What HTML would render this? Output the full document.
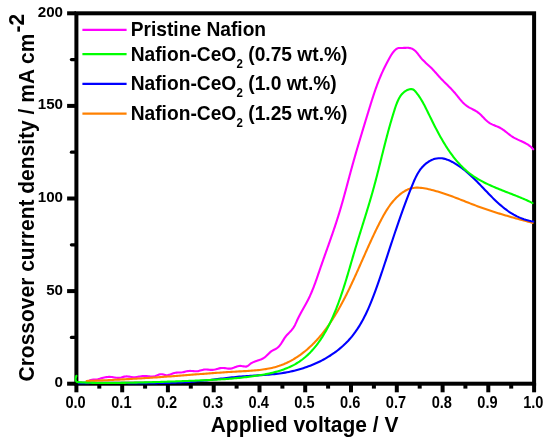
<!DOCTYPE html>
<html><head><meta charset="utf-8"><style>
html,body{margin:0;padding:0;background:#fff;}
body{width:550px;height:443px;overflow:hidden;}
svg{display:block;}
text{font-family:"Liberation Sans",Arial,sans-serif;font-weight:bold;fill:#000;}
.tk{font-size:14.6px;}
.lg{font-size:19.2px;}
.sub{font-size:11.5px;}
.ax{font-size:21px;}
</style></head><body>
<svg width="550" height="443" viewBox="0 0 550 443">
<rect x="0" y="0" width="550" height="443" fill="#fff"/>
<g stroke="#000" stroke-width="4" fill="none">
<rect x="76.4" y="13.3" width="457.7" height="370.4"/>
<line x1="67.1" y1="383.7" x2="76" y2="383.7"/><line x1="71.4" y1="337.4" x2="76" y2="337.4" stroke-width="3.2" stroke-linecap="round"/><line x1="67.1" y1="291.1" x2="76" y2="291.1"/><line x1="71.4" y1="244.8" x2="76" y2="244.8" stroke-width="3.2" stroke-linecap="round"/><line x1="67.1" y1="198.5" x2="76" y2="198.5"/><line x1="71.4" y1="152.2" x2="76" y2="152.2" stroke-width="3.2" stroke-linecap="round"/><line x1="67.1" y1="105.9" x2="76" y2="105.9"/><line x1="71.4" y1="59.6" x2="76" y2="59.6" stroke-width="3.2" stroke-linecap="round"/><line x1="67.1" y1="13.3" x2="76" y2="13.3"/><line x1="76.4" y1="383" x2="76.4" y2="392.3"/><line x1="99.3" y1="383" x2="99.3" y2="388.6"/><line x1="122.2" y1="383" x2="122.2" y2="392.3"/><line x1="145.1" y1="383" x2="145.1" y2="388.6"/><line x1="167.9" y1="383" x2="167.9" y2="392.3"/><line x1="190.8" y1="383" x2="190.8" y2="388.6"/><line x1="213.7" y1="383" x2="213.7" y2="392.3"/><line x1="236.6" y1="383" x2="236.6" y2="388.6"/><line x1="259.5" y1="383" x2="259.5" y2="392.3"/><line x1="282.4" y1="383" x2="282.4" y2="388.6"/><line x1="305.2" y1="383" x2="305.2" y2="392.3"/><line x1="328.1" y1="383" x2="328.1" y2="388.6"/><line x1="351.0" y1="383" x2="351.0" y2="392.3"/><line x1="373.9" y1="383" x2="373.9" y2="388.6"/><line x1="396.8" y1="383" x2="396.8" y2="392.3"/><line x1="419.7" y1="383" x2="419.7" y2="388.6"/><line x1="442.6" y1="383" x2="442.6" y2="392.3"/><line x1="465.4" y1="383" x2="465.4" y2="388.6"/><line x1="488.3" y1="383" x2="488.3" y2="392.3"/><line x1="511.2" y1="383" x2="511.2" y2="388.6"/><line x1="534.1" y1="383" x2="534.1" y2="392.3"/>
</g>
<path d="M88.30 381.99 L89.07 381.00 L89.96 380.34 L90.96 379.94 L92.04 379.73 L93.17 379.64 L94.33 379.60 L95.49 379.55 L96.63 379.42 L97.75 379.22 L98.86 378.96 L99.95 378.68 L101.05 378.38 L102.15 378.08 L103.24 377.79 L104.34 377.53 L105.45 377.30 L106.55 377.10 L107.66 376.96 L108.77 376.88 L109.88 376.86 L111.00 376.93 L112.11 377.06 L113.23 377.23 L114.36 377.42 L115.48 377.60 L116.61 377.75 L117.73 377.84 L118.86 377.85 L119.98 377.75 L121.11 377.52 L122.23 377.21 L123.35 376.88 L124.48 376.60 L125.60 376.43 L126.73 376.40 L127.85 376.47 L128.98 376.61 L130.11 376.79 L131.23 376.97 L132.36 377.11 L133.48 377.20 L134.60 377.19 L135.72 377.12 L136.84 376.98 L137.95 376.81 L139.07 376.62 L140.18 376.43 L141.29 376.26 L142.40 376.13 L143.52 376.05 L144.63 376.02 L145.75 376.05 L146.87 376.13 L148.00 376.23 L149.14 376.35 L150.28 376.45 L151.43 376.52 L152.57 376.52 L153.69 376.42 L154.80 376.20 L155.89 375.84 L156.97 375.40 L158.04 374.95 L159.11 374.56 L160.18 374.29 L161.26 374.20 L162.36 374.32 L163.46 374.58 L164.57 374.87 L165.68 375.12 L166.78 375.22 L167.87 375.13 L168.95 374.88 L170.03 374.53 L171.11 374.11 L172.19 373.67 L173.28 373.27 L174.38 372.94 L175.49 372.72 L176.62 372.61 L177.76 372.57 L178.89 372.55 L180.03 372.53 L181.16 372.46 L182.29 372.32 L183.40 372.11 L184.52 371.86 L185.62 371.59 L186.73 371.34 L187.85 371.13 L188.96 370.98 L190.09 370.92 L191.22 370.94 L192.36 371.02 L193.50 371.12 L194.64 371.21 L195.77 371.26 L196.90 371.23 L198.01 371.10 L199.12 370.86 L200.21 370.55 L201.31 370.22 L202.40 369.90 L203.50 369.65 L204.61 369.50 L205.74 369.46 L206.87 369.51 L208.00 369.62 L209.14 369.73 L210.28 369.84 L211.42 369.89 L212.54 369.86 L213.66 369.73 L214.78 369.51 L215.89 369.24 L216.99 368.94 L218.10 368.64 L219.21 368.36 L220.32 368.13 L221.43 367.98 L222.56 367.94 L223.69 368.00 L224.83 368.14 L225.97 368.31 L227.10 368.48 L228.23 368.62 L229.35 368.67 L230.45 368.62 L231.53 368.42 L232.60 368.12 L233.66 367.74 L234.72 367.32 L235.79 366.90 L236.86 366.51 L237.95 366.19 L239.07 365.98 L240.20 365.91 L241.37 365.99 L242.54 366.17 L243.70 366.38 L244.83 366.56 L245.91 366.60 L246.91 366.40 L247.83 365.90 L248.71 365.21 L249.58 364.45 L250.48 363.74 L251.42 363.12 L252.39 362.58 L253.40 362.11 L254.44 361.69 L255.49 361.30 L256.55 360.94 L257.63 360.59 L258.70 360.23 L259.77 359.85 L260.83 359.44 L261.87 358.99 L262.88 358.49 L263.85 357.92 L264.77 357.29 L265.64 356.58 L266.47 355.82 L267.28 355.03 L268.08 354.22 L268.88 353.41 L269.71 352.63 L270.57 351.88 L271.48 351.19 L272.46 350.58 L273.50 350.04 L274.57 349.54 L275.61 349.02 L276.59 348.43 L277.49 347.76 L278.32 347.02 L279.10 346.22 L279.82 345.37 L280.50 344.47 L281.15 343.53 L281.78 342.57 L282.38 341.59 L282.99 340.61 L283.59 339.62 L284.20 338.65 L284.83 337.70 L285.49 336.77 L286.19 335.88 L286.92 335.04 L287.69 334.22 L288.47 333.42 L289.26 332.62 L290.05 331.82 L290.82 330.99 L291.57 330.13 L292.29 329.24 L292.97 328.33 L293.61 327.39 L294.21 326.41 L294.76 325.42 L295.27 324.41 L295.76 323.38 L296.23 322.35 L296.69 321.31 L297.15 320.27 L297.63 319.24 L298.12 318.22 L298.61 317.20 L299.12 316.19 L299.64 315.18 L300.17 314.18 L300.70 313.18 L301.24 312.19 L301.79 311.19 L302.35 310.20 L302.91 309.21 L303.47 308.23 L304.03 307.24 L304.59 306.25 L305.15 305.25 L305.71 304.26 L306.26 303.27 L306.80 302.27 L307.33 301.26 L307.86 300.25 L308.37 299.24 L308.87 298.22 L309.36 297.20 L309.84 296.18 L310.30 295.14 L310.77 294.11 L311.22 293.07 L311.66 292.03 L312.10 290.99 L312.52 289.94 L312.95 288.89 L313.36 287.83 L313.77 286.78 L314.17 285.72 L314.57 284.66 L314.96 283.59 L315.35 282.53 L315.73 281.46 L316.11 280.39 L316.49 279.32 L316.86 278.25 L317.24 277.18 L317.61 276.10 L317.97 275.03 L318.34 273.95 L318.71 272.88 L319.08 271.81 L319.44 270.73 L319.81 269.66 L320.18 268.58 L320.55 267.51 L320.92 266.44 L321.30 265.36 L321.67 264.29 L322.05 263.22 L322.42 262.15 L322.80 261.08 L323.18 260.00 L323.55 258.93 L323.93 257.86 L324.31 256.79 L324.69 255.72 L325.07 254.65 L325.45 253.58 L325.83 252.51 L326.21 251.44 L326.59 250.37 L326.97 249.30 L327.35 248.23 L327.73 247.16 L328.11 246.09 L328.49 245.03 L328.87 243.96 L329.24 242.89 L329.62 241.81 L330.00 240.74 L330.37 239.67 L330.75 238.60 L331.12 237.53 L331.50 236.46 L331.87 235.39 L332.24 234.32 L332.61 233.24 L332.98 232.17 L333.34 231.10 L333.71 230.03 L334.07 228.95 L334.43 227.88 L334.80 226.80 L335.15 225.73 L335.51 224.65 L335.87 223.57 L336.22 222.49 L336.57 221.42 L336.92 220.34 L337.26 219.26 L337.61 218.18 L337.95 217.10 L338.29 216.02 L338.63 214.93 L338.96 213.85 L339.29 212.76 L339.62 211.68 L339.95 210.59 L340.27 209.51 L340.59 208.42 L340.91 207.33 L341.23 206.24 L341.54 205.15 L341.86 204.06 L342.17 202.97 L342.48 201.88 L342.79 200.79 L343.09 199.70 L343.40 198.61 L343.70 197.51 L344.00 196.42 L344.31 195.33 L344.61 194.23 L344.91 193.14 L345.20 192.04 L345.50 190.95 L345.80 189.85 L346.09 188.76 L346.39 187.66 L346.68 186.57 L346.98 185.47 L347.27 184.37 L347.56 183.28 L347.86 182.18 L348.15 181.08 L348.45 179.99 L348.74 178.89 L349.03 177.80 L349.33 176.70 L349.62 175.60 L349.92 174.51 L350.21 173.41 L350.51 172.32 L350.80 171.22 L351.10 170.13 L351.40 169.03 L351.70 167.94 L352.00 166.85 L352.30 165.75 L352.61 164.66 L352.91 163.57 L353.22 162.47 L353.52 161.38 L353.83 160.29 L354.14 159.20 L354.45 158.11 L354.76 157.02 L355.07 155.93 L355.39 154.84 L355.70 153.75 L356.02 152.66 L356.34 151.57 L356.65 150.48 L356.97 149.40 L357.29 148.31 L357.61 147.22 L357.93 146.13 L358.25 145.05 L358.58 143.96 L358.90 142.87 L359.22 141.78 L359.55 140.70 L359.87 139.61 L360.20 138.53 L360.53 137.44 L360.85 136.35 L361.18 135.27 L361.51 134.18 L361.84 133.10 L362.16 132.01 L362.49 130.93 L362.82 129.84 L363.15 128.75 L363.48 127.67 L363.81 126.58 L364.14 125.50 L364.47 124.41 L364.80 123.33 L365.13 122.24 L365.46 121.16 L365.79 120.07 L366.12 118.99 L366.46 117.90 L366.79 116.81 L367.12 115.73 L367.45 114.64 L367.78 113.56 L368.12 112.47 L368.45 111.39 L368.78 110.30 L369.11 109.22 L369.45 108.13 L369.78 107.05 L370.12 105.96 L370.45 104.88 L370.79 103.80 L371.13 102.71 L371.47 101.63 L371.81 100.55 L372.15 99.47 L372.50 98.39 L372.84 97.31 L373.19 96.23 L373.55 95.15 L373.90 94.07 L374.26 93.00 L374.63 91.92 L374.99 90.85 L375.36 89.78 L375.74 88.71 L376.12 87.64 L376.50 86.57 L376.89 85.51 L377.28 84.45 L377.68 83.38 L378.09 82.32 L378.50 81.27 L378.91 80.21 L379.33 79.16 L379.76 78.11 L380.20 77.06 L380.64 76.01 L381.09 74.97 L381.54 73.93 L382.00 72.89 L382.47 71.86 L382.95 70.82 L383.43 69.79 L383.91 68.77 L384.41 67.74 L384.90 66.72 L385.41 65.71 L385.92 64.69 L386.43 63.68 L386.96 62.68 L387.48 61.67 L388.01 60.67 L388.55 59.68 L389.09 58.69 L389.64 57.70 L390.20 56.72 L390.77 55.74 L391.37 54.78 L392.00 53.83 L392.66 52.88 L393.36 51.96 L394.11 51.05 L394.90 50.20 L395.76 49.43 L396.67 48.80 L397.66 48.34 L398.71 48.08 L399.82 47.96 L400.97 47.93 L402.13 47.93 L403.31 47.92 L404.48 47.87 L405.65 47.83 L406.81 47.80 L407.95 47.82 L409.07 47.91 L410.17 48.10 L411.25 48.40 L412.28 48.84 L413.28 49.39 L414.20 50.02 L415.07 50.74 L415.87 51.51 L416.64 52.34 L417.36 53.21 L418.07 54.11 L418.76 55.02 L419.44 55.94 L420.14 56.85 L420.85 57.74 L421.59 58.61 L422.35 59.45 L423.13 60.27 L423.93 61.08 L424.74 61.87 L425.56 62.65 L426.39 63.42 L427.23 64.19 L428.06 64.95 L428.90 65.72 L429.73 66.49 L430.56 67.26 L431.37 68.05 L432.17 68.85 L432.96 69.67 L433.74 70.50 L434.50 71.34 L435.26 72.19 L436.01 73.04 L436.76 73.90 L437.51 74.75 L438.26 75.61 L439.01 76.45 L439.77 77.30 L440.54 78.13 L441.32 78.95 L442.10 79.77 L442.90 80.58 L443.69 81.38 L444.49 82.18 L445.29 82.97 L446.10 83.77 L446.90 84.56 L447.71 85.36 L448.51 86.16 L449.31 86.96 L450.10 87.77 L450.90 88.58 L451.68 89.40 L452.46 90.23 L453.23 91.08 L453.99 91.93 L454.74 92.79 L455.47 93.67 L456.20 94.56 L456.93 95.46 L457.65 96.36 L458.37 97.26 L459.09 98.16 L459.82 99.05 L460.55 99.93 L461.30 100.79 L462.06 101.64 L462.83 102.46 L463.63 103.26 L464.45 104.03 L465.30 104.76 L466.17 105.46 L467.07 106.12 L468.01 106.74 L468.97 107.32 L469.96 107.87 L470.97 108.40 L471.98 108.92 L473.00 109.44 L474.01 109.97 L475.01 110.51 L475.99 111.08 L476.94 111.69 L477.87 112.35 L478.76 113.05 L479.62 113.79 L480.46 114.57 L481.28 115.36 L482.09 116.18 L482.89 117.00 L483.69 117.83 L484.50 118.65 L485.30 119.45 L486.13 120.24 L486.97 121.00 L487.83 121.72 L488.72 122.40 L489.64 123.03 L490.60 123.61 L491.59 124.13 L492.61 124.61 L493.66 125.06 L494.71 125.50 L495.77 125.92 L496.83 126.35 L497.88 126.80 L498.92 127.27 L499.94 127.77 L500.93 128.32 L501.89 128.91 L502.84 129.54 L503.76 130.19 L504.67 130.87 L505.57 131.57 L506.46 132.28 L507.35 132.99 L508.25 133.70 L509.14 134.40 L510.05 135.09 L510.96 135.76 L511.90 136.41 L512.85 137.02 L513.82 137.59 L514.81 138.14 L515.82 138.66 L516.84 139.16 L517.86 139.65 L518.90 140.12 L519.94 140.59 L520.97 141.06 L522.01 141.53 L523.04 142.02 L524.06 142.51 L525.07 143.03 L526.07 143.57 L527.05 144.13 L528.01 144.73 L528.95 145.37 L529.86 146.05 L530.75 146.78 L531.60 147.56 L532.42 148.40 L533.20 149.30" fill="none" stroke="#FF00FF" stroke-width="2.1" stroke-linejoin="round" stroke-linecap="round"/>
<path d="M86.60 380.94 L88.16 380.89 L89.71 380.84 L91.27 380.79 L92.82 380.73 L94.38 380.68 L95.94 380.62 L97.50 380.56 L99.05 380.50 L100.61 380.44 L102.17 380.37 L103.73 380.31 L105.29 380.24 L106.85 380.18 L108.41 380.11 L109.97 380.04 L111.53 379.96 L113.09 379.89 L114.65 379.82 L116.21 379.74 L117.77 379.66 L119.33 379.58 L120.90 379.50 L122.46 379.42 L124.02 379.34 L125.58 379.26 L127.14 379.17 L128.70 379.08 L130.27 379.00 L131.83 378.91 L133.39 378.82 L134.95 378.73 L136.51 378.63 L138.07 378.54 L139.63 378.45 L141.19 378.35 L142.76 378.25 L144.32 378.15 L145.88 378.06 L147.44 377.96 L149.00 377.85 L150.56 377.75 L152.12 377.65 L153.67 377.54 L155.23 377.44 L156.79 377.33 L158.35 377.22 L159.91 377.11 L161.46 377.00 L163.02 376.89 L164.58 376.78 L166.13 376.67 L167.69 376.56 L169.24 376.44 L170.80 376.33 L172.35 376.21 L173.90 376.09 L175.46 375.98 L177.01 375.86 L178.56 375.74 L180.11 375.62 L181.67 375.50 L183.22 375.38 L184.77 375.26 L186.32 375.14 L187.87 375.02 L189.43 374.90 L190.98 374.78 L192.53 374.66 L194.08 374.54 L195.63 374.42 L197.19 374.30 L198.74 374.18 L200.29 374.06 L201.84 373.95 L203.40 373.83 L204.95 373.71 L206.51 373.60 L208.06 373.48 L209.62 373.37 L211.17 373.25 L212.73 373.14 L214.29 373.03 L215.84 372.92 L217.40 372.81 L218.96 372.70 L220.52 372.59 L222.08 372.48 L223.64 372.38 L225.20 372.28 L226.77 372.17 L228.33 372.07 L229.90 371.98 L231.46 371.88 L233.03 371.78 L234.60 371.69 L236.16 371.60 L237.73 371.51 L239.31 371.42 L240.88 371.34 L242.45 371.25 L244.02 371.17 L245.60 371.08 L247.17 370.98 L248.74 370.89 L250.31 370.78 L251.88 370.67 L253.44 370.55 L255.01 370.42 L256.57 370.27 L258.12 370.12 L259.68 369.95 L261.23 369.76 L262.77 369.56 L264.31 369.33 L265.84 369.09 L267.37 368.83 L268.89 368.55 L270.41 368.24 L271.91 367.91 L273.41 367.55 L274.91 367.16 L276.39 366.75 L277.87 366.30 L279.33 365.83 L280.79 365.32 L282.24 364.77 L283.67 364.20 L285.10 363.59 L286.52 362.95 L287.92 362.28 L289.31 361.58 L290.69 360.86 L292.06 360.10 L293.42 359.32 L294.76 358.51 L296.09 357.68 L297.41 356.82 L298.72 355.94 L300.01 355.03 L301.28 354.11 L302.54 353.16 L303.79 352.19 L305.02 351.20 L306.24 350.20 L307.44 349.18 L308.62 348.14 L309.79 347.08 L310.94 346.01 L312.07 344.92 L313.19 343.82 L314.29 342.71 L315.38 341.58 L316.45 340.44 L317.50 339.28 L318.54 338.12 L319.56 336.94 L320.57 335.75 L321.57 334.55 L322.55 333.33 L323.52 332.11 L324.47 330.88 L325.42 329.63 L326.35 328.38 L327.26 327.12 L328.17 325.84 L329.06 324.56 L329.94 323.28 L330.81 321.98 L331.67 320.68 L332.51 319.36 L333.35 318.05 L334.18 316.72 L334.99 315.39 L335.80 314.06 L336.60 312.72 L337.39 311.37 L338.17 310.02 L338.94 308.66 L339.70 307.30 L340.46 305.94 L341.20 304.57 L341.94 303.20 L342.68 301.83 L343.40 300.46 L344.12 299.08 L344.84 297.69 L345.54 296.31 L346.24 294.92 L346.94 293.53 L347.63 292.14 L348.31 290.74 L348.99 289.35 L349.67 287.94 L350.34 286.54 L351.00 285.14 L351.66 283.73 L352.32 282.32 L352.97 280.91 L353.63 279.50 L354.27 278.09 L354.92 276.67 L355.56 275.25 L356.20 273.83 L356.84 272.41 L357.48 270.99 L358.11 269.57 L358.74 268.15 L359.38 266.72 L360.01 265.30 L360.64 263.87 L361.27 262.44 L361.90 261.02 L362.53 259.59 L363.16 258.16 L363.79 256.73 L364.42 255.30 L365.06 253.88 L365.69 252.45 L366.33 251.02 L366.96 249.59 L367.60 248.16 L368.25 246.73 L368.89 245.30 L369.54 243.88 L370.19 242.45 L370.84 241.02 L371.50 239.60 L372.16 238.17 L372.82 236.75 L373.49 235.33 L374.17 233.91 L374.85 232.49 L375.53 231.07 L376.22 229.65 L376.91 228.24 L377.61 226.82 L378.32 225.41 L379.03 224.00 L379.75 222.59 L380.47 221.18 L381.20 219.78 L381.94 218.38 L382.70 216.99 L383.46 215.60 L384.24 214.22 L385.03 212.86 L385.84 211.50 L386.66 210.16 L387.51 208.83 L388.38 207.53 L389.27 206.23 L390.18 204.96 L391.12 203.71 L392.08 202.49 L393.07 201.28 L394.09 200.11 L395.15 198.96 L396.23 197.84 L397.35 196.75 L398.50 195.69 L399.70 194.67 L400.92 193.68 L402.19 192.73 L403.49 191.84 L404.82 191.02 L406.18 190.26 L407.57 189.59 L408.99 189.02 L410.42 188.55 L411.88 188.18 L413.35 187.92 L414.85 187.74 L416.35 187.66 L417.87 187.65 L419.40 187.71 L420.93 187.84 L422.47 188.02 L424.01 188.26 L425.56 188.53 L427.10 188.84 L428.64 189.18 L430.18 189.55 L431.71 189.92 L433.23 190.32 L434.74 190.73 L436.26 191.15 L437.76 191.59 L439.26 192.04 L440.76 192.51 L442.25 192.98 L443.74 193.47 L445.22 193.97 L446.70 194.48 L448.18 195.00 L449.65 195.52 L451.12 196.06 L452.59 196.60 L454.05 197.14 L455.52 197.70 L456.98 198.25 L458.44 198.81 L459.89 199.38 L461.35 199.95 L462.81 200.51 L464.26 201.08 L465.72 201.66 L467.17 202.23 L468.63 202.80 L470.08 203.37 L471.54 203.93 L472.99 204.50 L474.45 205.05 L475.91 205.61 L477.37 206.16 L478.84 206.70 L480.30 207.24 L481.77 207.77 L483.24 208.30 L484.72 208.81 L486.19 209.32 L487.67 209.82 L489.15 210.32 L490.64 210.81 L492.12 211.29 L493.61 211.77 L495.09 212.25 L496.58 212.71 L498.08 213.18 L499.57 213.63 L501.07 214.08 L502.56 214.53 L504.06 214.98 L505.56 215.42 L507.06 215.85 L508.56 216.28 L510.06 216.71 L511.56 217.14 L513.07 217.56 L514.57 217.98 L516.08 218.40 L517.58 218.81 L519.09 219.22 L520.60 219.63 L522.10 220.04 L523.61 220.45 L525.12 220.85 L526.63 221.26 L528.13 221.66 L529.64 222.06 L531.15 222.47 L532.65 222.87" fill="none" stroke="#FF8000" stroke-width="2.1" stroke-linejoin="round" stroke-linecap="round"/>
<path d="M79.00 383.30 L80.84 383.25 L82.68 383.20 L84.52 383.16 L86.37 383.12 L88.21 383.09 L90.05 383.06 L91.90 383.03 L93.74 383.01 L95.58 382.99 L97.43 382.98 L99.27 382.97 L101.12 382.96 L102.96 382.96 L104.81 382.96 L106.66 382.96 L108.50 382.96 L110.35 382.97 L112.20 382.98 L114.04 382.98 L115.89 382.99 L117.74 383.00 L119.59 383.02 L121.43 383.03 L123.28 383.04 L125.13 383.06 L126.98 383.07 L128.83 383.08 L130.68 383.09 L132.52 383.10 L134.37 383.12 L136.22 383.12 L138.07 383.13 L139.92 383.14 L141.77 383.14 L143.62 383.15 L145.46 383.15 L147.31 383.14 L149.16 383.14 L151.01 383.13 L152.86 383.12 L154.70 383.10 L156.55 383.08 L158.40 383.06 L160.25 383.04 L162.09 383.00 L163.94 382.97 L165.79 382.93 L167.63 382.88 L169.48 382.83 L171.32 382.78 L173.17 382.71 L175.01 382.65 L176.86 382.57 L178.70 382.49 L180.55 382.41 L182.39 382.31 L184.23 382.21 L186.07 382.10 L187.92 381.99 L189.76 381.86 L191.60 381.73 L193.44 381.59 L195.28 381.44 L197.12 381.29 L198.96 381.12 L200.80 380.94 L202.63 380.76 L204.47 380.57 L206.31 380.37 L208.14 380.17 L209.98 379.96 L211.81 379.74 L213.65 379.52 L215.49 379.31 L217.32 379.08 L219.16 378.86 L220.99 378.64 L222.83 378.42 L224.66 378.21 L226.50 377.99 L228.33 377.78 L230.17 377.58 L232.00 377.38 L233.84 377.19 L235.68 377.01 L237.52 376.83 L239.35 376.67 L241.19 376.51 L243.03 376.37 L244.87 376.24 L246.71 376.11 L248.55 375.99 L250.39 375.87 L252.23 375.76 L254.08 375.65 L255.92 375.54 L257.76 375.42 L259.59 375.31 L261.43 375.19 L263.27 375.06 L265.11 374.93 L266.95 374.79 L268.78 374.64 L270.61 374.48 L272.45 374.31 L274.28 374.12 L276.11 373.91 L277.94 373.69 L279.76 373.45 L281.59 373.19 L283.41 372.91 L285.23 372.61 L287.05 372.28 L288.87 371.93 L290.68 371.55 L292.49 371.15 L294.29 370.72 L296.09 370.27 L297.88 369.79 L299.67 369.28 L301.45 368.75 L303.22 368.19 L304.99 367.61 L306.74 367.00 L308.49 366.36 L310.22 365.70 L311.95 365.01 L313.66 364.30 L315.36 363.56 L317.05 362.80 L318.72 362.01 L320.38 361.19 L322.02 360.35 L323.65 359.48 L325.26 358.58 L326.85 357.66 L328.43 356.71 L329.98 355.74 L331.52 354.74 L333.04 353.71 L334.54 352.66 L336.01 351.58 L337.47 350.47 L338.90 349.34 L340.31 348.18 L341.70 346.99 L343.06 345.78 L344.39 344.54 L345.70 343.28 L346.98 341.98 L348.24 340.67 L349.47 339.32 L350.67 337.95 L351.84 336.55 L352.98 335.12 L354.09 333.67 L355.18 332.20 L356.23 330.70 L357.27 329.18 L358.27 327.64 L359.25 326.08 L360.21 324.50 L361.15 322.90 L362.06 321.28 L362.95 319.65 L363.82 318.00 L364.67 316.34 L365.50 314.66 L366.32 312.97 L367.11 311.28 L367.89 309.57 L368.65 307.85 L369.40 306.12 L370.13 304.39 L370.85 302.65 L371.55 300.91 L372.24 299.16 L372.92 297.40 L373.59 295.65 L374.25 293.90 L374.91 292.14 L375.55 290.39 L376.18 288.63 L376.81 286.88 L377.43 285.14 L378.04 283.39 L378.65 281.65 L379.26 279.90 L379.85 278.16 L380.45 276.42 L381.04 274.68 L381.62 272.95 L382.20 271.21 L382.78 269.48 L383.36 267.74 L383.93 266.01 L384.51 264.27 L385.08 262.54 L385.65 260.80 L386.22 259.07 L386.79 257.34 L387.36 255.60 L387.92 253.87 L388.49 252.13 L389.06 250.40 L389.63 248.66 L390.20 246.93 L390.78 245.19 L391.35 243.45 L391.92 241.72 L392.50 239.98 L393.07 238.24 L393.65 236.51 L394.23 234.77 L394.82 233.03 L395.40 231.29 L395.99 229.55 L396.58 227.81 L397.17 226.07 L397.77 224.33 L398.37 222.59 L398.97 220.84 L399.58 219.10 L400.19 217.35 L400.80 215.61 L401.42 213.86 L402.04 212.12 L402.67 210.37 L403.30 208.62 L403.94 206.87 L404.58 205.12 L405.22 203.37 L405.88 201.62 L406.53 199.86 L407.20 198.11 L407.87 196.35 L408.54 194.59 L409.22 192.84 L409.91 191.08 L410.61 189.32 L411.31 187.55 L412.02 185.79 L412.74 184.03 L413.47 182.28 L414.23 180.54 L415.01 178.82 L415.82 177.12 L416.67 175.46 L417.57 173.83 L418.51 172.24 L419.51 170.70 L420.56 169.22 L421.68 167.80 L422.87 166.44 L424.14 165.15 L425.49 163.94 L426.92 162.81 L428.42 161.78 L429.99 160.86 L431.61 160.05 L433.29 159.37 L434.99 158.84 L436.73 158.45 L438.48 158.23 L440.23 158.18 L441.99 158.32 L443.74 158.61 L445.48 159.06 L447.21 159.63 L448.93 160.31 L450.62 161.09 L452.29 161.95 L453.94 162.86 L455.55 163.82 L457.14 164.82 L458.70 165.85 L460.22 166.91 L461.73 168.01 L463.21 169.13 L464.67 170.29 L466.10 171.46 L467.52 172.67 L468.91 173.89 L470.29 175.14 L471.66 176.40 L473.01 177.68 L474.34 178.98 L475.67 180.29 L476.98 181.61 L478.29 182.94 L479.59 184.27 L480.88 185.62 L482.17 186.96 L483.45 188.31 L484.74 189.66 L486.02 191.00 L487.30 192.34 L488.59 193.68 L489.88 195.01 L491.17 196.33 L492.47 197.63 L493.78 198.93 L495.10 200.21 L496.43 201.47 L497.78 202.72 L499.13 203.94 L500.50 205.14 L501.89 206.32 L503.30 207.47 L504.72 208.59 L506.17 209.68 L507.63 210.74 L509.12 211.77 L510.64 212.76 L512.18 213.72 L513.75 214.63 L515.35 215.51 L516.98 216.34 L518.64 217.13 L520.34 217.87 L522.07 218.56 L523.83 219.20 L525.64 219.79 L527.48 220.32 L529.36 220.80 L531.28 221.22 L533.25 221.59" fill="none" stroke="#0000FF" stroke-width="2.1" stroke-linejoin="round" stroke-linecap="round"/>
<path d="M76.34 375.86 L75.55 378.79 L75.70 380.64 L76.54 381.67 L77.85 382.14 L79.42 382.30 L81.05 382.40 L82.68 382.49 L84.30 382.57 L85.93 382.64 L87.55 382.71 L89.18 382.77 L90.80 382.82 L92.43 382.87 L94.06 382.91 L95.68 382.94 L97.31 382.97 L98.93 383.00 L100.56 383.02 L102.19 383.03 L103.81 383.04 L105.44 383.05 L107.07 383.05 L108.70 383.05 L110.33 383.04 L111.96 383.03 L113.59 383.02 L115.22 383.01 L116.85 382.99 L118.49 382.96 L120.12 382.94 L121.76 382.91 L123.39 382.88 L125.03 382.85 L126.67 382.82 L128.31 382.79 L129.95 382.75 L131.59 382.72 L133.23 382.68 L134.88 382.64 L136.52 382.60 L138.17 382.56 L139.82 382.52 L141.46 382.47 L143.11 382.43 L144.76 382.39 L146.41 382.34 L148.06 382.29 L149.71 382.25 L151.36 382.20 L153.01 382.15 L154.66 382.10 L156.31 382.05 L157.96 382.00 L159.61 381.94 L161.26 381.89 L162.91 381.84 L164.56 381.78 L166.21 381.73 L167.86 381.67 L169.51 381.61 L171.15 381.56 L172.80 381.50 L174.44 381.44 L176.09 381.38 L177.73 381.32 L179.37 381.26 L181.01 381.20 L182.65 381.13 L184.29 381.07 L185.93 381.01 L187.56 380.94 L189.19 380.88 L190.82 380.82 L192.45 380.75 L194.08 380.68 L195.71 380.62 L197.33 380.55 L198.95 380.48 L200.57 380.41 L202.19 380.34 L203.81 380.27 L205.43 380.20 L207.05 380.12 L208.66 380.04 L210.28 379.96 L211.90 379.88 L213.51 379.79 L215.13 379.70 L216.75 379.61 L218.36 379.51 L219.98 379.41 L221.60 379.30 L223.22 379.20 L224.84 379.08 L226.46 378.97 L228.08 378.84 L229.71 378.72 L231.33 378.58 L232.96 378.45 L234.59 378.30 L236.23 378.15 L237.86 378.00 L239.50 377.84 L241.14 377.67 L242.78 377.50 L244.43 377.32 L246.08 377.13 L247.73 376.93 L249.39 376.73 L251.05 376.52 L252.71 376.30 L254.38 376.07 L256.04 375.83 L257.71 375.58 L259.38 375.32 L261.04 375.05 L262.70 374.76 L264.36 374.46 L266.02 374.15 L267.67 373.81 L269.31 373.46 L270.95 373.10 L272.57 372.71 L274.19 372.30 L275.80 371.88 L277.40 371.43 L278.98 370.96 L280.56 370.47 L282.11 369.95 L283.66 369.41 L285.19 368.84 L286.70 368.25 L288.19 367.63 L289.67 366.98 L291.13 366.30 L292.56 365.59 L293.98 364.85 L295.37 364.08 L296.74 363.27 L298.08 362.44 L299.41 361.57 L300.70 360.66 L301.98 359.73 L303.23 358.77 L304.46 357.77 L305.67 356.75 L306.85 355.70 L308.02 354.62 L309.16 353.52 L310.28 352.39 L311.38 351.23 L312.46 350.05 L313.52 348.85 L314.56 347.62 L315.58 346.37 L316.59 345.10 L317.57 343.81 L318.53 342.50 L319.48 341.16 L320.41 339.82 L321.32 338.45 L322.21 337.06 L323.09 335.66 L323.95 334.25 L324.79 332.82 L325.62 331.37 L326.43 329.91 L327.22 328.44 L328.00 326.96 L328.77 325.47 L329.52 323.96 L330.26 322.45 L330.98 320.93 L331.69 319.40 L332.38 317.86 L333.07 316.32 L333.74 314.77 L334.39 313.21 L335.04 311.66 L335.67 310.09 L336.30 308.53 L336.91 306.96 L337.51 305.39 L338.10 303.82 L338.68 302.25 L339.25 300.69 L339.81 299.12 L340.36 297.55 L340.90 295.99 L341.43 294.44 L341.96 292.88 L342.47 291.33 L342.98 289.77 L343.49 288.23 L343.98 286.68 L344.47 285.13 L344.96 283.59 L345.44 282.04 L345.91 280.50 L346.38 278.96 L346.85 277.42 L347.31 275.88 L347.77 274.34 L348.22 272.80 L348.68 271.26 L349.13 269.73 L349.58 268.19 L350.03 266.65 L350.48 265.11 L350.93 263.56 L351.37 262.02 L351.82 260.48 L352.27 258.93 L352.72 257.39 L353.18 255.84 L353.63 254.29 L354.09 252.73 L354.55 251.18 L355.02 249.62 L355.48 248.06 L355.95 246.50 L356.43 244.94 L356.91 243.37 L357.39 241.80 L357.87 240.23 L358.35 238.66 L358.84 237.08 L359.33 235.51 L359.82 233.93 L360.31 232.35 L360.80 230.77 L361.29 229.19 L361.79 227.60 L362.28 226.02 L362.78 224.43 L363.27 222.85 L363.76 221.26 L364.26 219.68 L364.75 218.09 L365.24 216.50 L365.73 214.91 L366.22 213.32 L366.71 211.74 L367.19 210.15 L367.68 208.56 L368.16 206.97 L368.64 205.39 L369.11 203.80 L369.59 202.21 L370.06 200.63 L370.52 199.04 L370.99 197.46 L371.44 195.88 L371.90 194.29 L372.35 192.71 L372.80 191.14 L373.24 189.56 L373.67 187.98 L374.10 186.41 L374.53 184.83 L374.95 183.26 L375.37 181.69 L375.78 180.12 L376.20 178.55 L376.60 176.99 L377.01 175.42 L377.41 173.85 L377.81 172.29 L378.21 170.72 L378.60 169.16 L379.00 167.59 L379.39 166.02 L379.78 164.46 L380.17 162.89 L380.56 161.33 L380.95 159.76 L381.34 158.19 L381.73 156.62 L382.12 155.06 L382.51 153.49 L382.91 151.92 L383.30 150.34 L383.70 148.77 L384.09 147.20 L384.49 145.62 L384.90 144.04 L385.30 142.46 L385.71 140.88 L386.12 139.30 L386.54 137.71 L386.95 136.12 L387.38 134.53 L387.80 132.94 L388.23 131.34 L388.67 129.75 L389.11 128.15 L389.56 126.54 L390.01 124.94 L390.47 123.33 L390.94 121.71 L391.41 120.10 L391.88 118.48 L392.37 116.85 L392.86 115.23 L393.36 113.59 L393.87 111.96 L394.39 110.32 L394.91 108.68 L395.45 107.04 L396.01 105.42 L396.60 103.82 L397.22 102.25 L397.89 100.72 L398.59 99.24 L399.36 97.82 L400.18 96.47 L401.06 95.20 L402.02 94.01 L403.06 92.92 L404.18 91.93 L405.39 91.05 L406.70 90.29 L408.11 89.67 L409.60 89.23 L411.11 89.07 L412.58 89.30 L413.95 90.03 L415.21 91.21 L416.36 92.60 L417.45 94.03 L418.48 95.45 L419.45 96.86 L420.38 98.28 L421.26 99.69 L422.10 101.11 L422.90 102.52 L423.67 103.94 L424.43 105.35 L425.16 106.77 L425.87 108.20 L426.58 109.63 L427.29 111.06 L427.99 112.51 L428.70 113.95 L429.41 115.41 L430.12 116.87 L430.84 118.33 L431.57 119.80 L432.29 121.27 L433.03 122.74 L433.77 124.21 L434.51 125.68 L435.27 127.16 L436.03 128.63 L436.79 130.10 L437.57 131.57 L438.35 133.03 L439.14 134.50 L439.95 135.95 L440.76 137.41 L441.58 138.85 L442.41 140.29 L443.25 141.72 L444.11 143.15 L444.97 144.56 L445.85 145.97 L446.74 147.36 L447.64 148.75 L448.56 150.12 L449.49 151.48 L450.44 152.82 L451.40 154.16 L452.37 155.47 L453.36 156.78 L454.37 158.06 L455.39 159.33 L456.43 160.58 L457.49 161.82 L458.56 163.03 L459.66 164.22 L460.77 165.40 L461.90 166.55 L463.05 167.68 L464.22 168.79 L465.41 169.87 L466.62 170.93 L467.85 171.97 L469.10 172.98 L470.37 173.96 L471.67 174.92 L472.99 175.85 L474.33 176.75 L475.69 177.63 L477.06 178.49 L478.46 179.32 L479.87 180.13 L481.30 180.92 L482.75 181.70 L484.20 182.45 L485.67 183.19 L487.16 183.91 L488.65 184.61 L490.16 185.30 L491.67 185.98 L493.19 186.65 L494.72 187.30 L496.26 187.95 L497.80 188.58 L499.34 189.21 L500.89 189.83 L502.44 190.44 L504.00 191.05 L505.55 191.66 L507.10 192.26 L508.66 192.86 L510.21 193.46 L511.75 194.06 L513.29 194.66 L514.83 195.26 L516.36 195.87 L517.89 196.48 L519.40 197.10 L520.91 197.72 L522.41 198.35 L523.89 198.99 L525.36 199.64 L526.83 200.30 L528.27 200.97 L529.70 201.65 L531.12 202.34 L532.52 203.06" fill="none" stroke="#00FF00" stroke-width="2.1" stroke-linejoin="round" stroke-linecap="round"/>

<g class="tk"><text transform="translate(63,387.2) scale(1.04,1.02)" text-anchor="end">0</text><text transform="translate(63,294.6) scale(1.04,1.02)" text-anchor="end">50</text><text transform="translate(63,202.0) scale(1.04,1.02)" text-anchor="end">100</text><text transform="translate(63,109.4) scale(1.04,1.02)" text-anchor="end">150</text><text transform="translate(63,16.8) scale(1.04,1.02)" text-anchor="end">200</text><text transform="translate(75.6,408.2) scale(1,1.1)" text-anchor="middle">0.0</text><text transform="translate(121.4,408.2) scale(1,1.1)" text-anchor="middle">0.1</text><text transform="translate(167.1,408.2) scale(1,1.1)" text-anchor="middle">0.2</text><text transform="translate(212.9,408.2) scale(1,1.1)" text-anchor="middle">0.3</text><text transform="translate(258.7,408.2) scale(1,1.1)" text-anchor="middle">0.4</text><text transform="translate(304.4,408.2) scale(1,1.1)" text-anchor="middle">0.5</text><text transform="translate(350.2,408.2) scale(1,1.1)" text-anchor="middle">0.6</text><text transform="translate(396.0,408.2) scale(1,1.1)" text-anchor="middle">0.7</text><text transform="translate(441.8,408.2) scale(1,1.1)" text-anchor="middle">0.8</text><text transform="translate(487.5,408.2) scale(1,1.1)" text-anchor="middle">0.9</text><text transform="translate(533.3,408.2) scale(1,1.1)" text-anchor="middle">1.0</text></g>
<line x1="82.4" y1="29.9" x2="126.6" y2="29.9" stroke="#FF00FF" stroke-width="2.2"/><text transform="translate(130.7,35.7) scale(1,1.05)" class="lg">Pristine Nafion</text><line x1="82.4" y1="54.2" x2="126.6" y2="54.2" stroke="#00FF00" stroke-width="2.2"/><text transform="translate(130.7,60.9) scale(1,1.05)" class="lg">Nafion-CeO<tspan class="sub" dx="0.3" dy="6.6">2</tspan><tspan dy="-6.6" dx="0.0"> (0.75 wt.%)</tspan></text><line x1="82.4" y1="83.9" x2="126.6" y2="83.9" stroke="#0000FF" stroke-width="2.2"/><text transform="translate(130.7,90.4) scale(1,1.05)" class="lg">Nafion-CeO<tspan class="sub" dx="0.3" dy="6.6">2</tspan><tspan dy="-6.6" dx="0.0"> (1.0 wt.%)</tspan></text><line x1="82.4" y1="113.7" x2="126.6" y2="113.7" stroke="#FF8000" stroke-width="2.2"/><text transform="translate(130.7,119.9) scale(1,1.05)" class="lg">Nafion-CeO<tspan class="sub" dx="0.3" dy="6.6">2</tspan><tspan dy="-6.6" dx="0.0"> (1.25 wt.%)</tspan></text>
<text class="ax" transform="translate(210.7,431.8) scale(1,1.03)">Applied voltage / V</text>
<text class="ax" transform="translate(34.2,381.5) rotate(-90) scale(1,1.05)">Crossover current density / mA cm</text>
<text class="ax" transform="translate(23.8,32.6) rotate(-90) scale(1,1.06)">-2</text>
</svg>
</body></html>
